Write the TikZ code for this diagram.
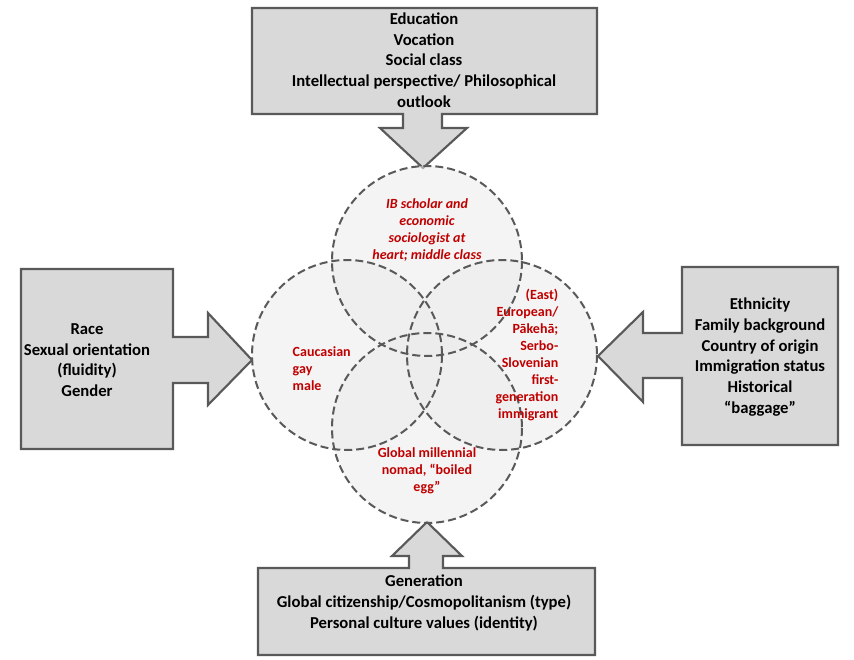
\documentclass[tikz,border=0pt]{standalone}
\usepackage{fontspec}
\setmainfont{Carlito}
\begin{document}
\begin{tikzpicture}[x=0.75pt,y=-0.75pt,
  callout/.style={fill=black!15,draw=black!65,line width=1.6pt,line join=miter},
  venn/.style={draw=black!65,dashed,dash pattern=on 6pt off 3pt,line width=1.5pt,fill=black!8,fill opacity=0.55},
  btxt/.style={font=\bfseries\fontsize{12.5}{15.5}\selectfont,align=center,text=black},
  rtxt/.style={font=\bfseries\fontsize{10.5}{12.8}\selectfont,text={rgb,255:red,192;green,0;blue,0}}]
\useasboundingbox (0,0) rectangle (854,660);
\draw[callout] (252,8)--(597,8)--(597,114)--(442,114)--(442,128)--(467,128)--(423,168)--(380,128)--(403,128)--(403,114)--(252,114)--cycle;
\draw[callout] (21,269)--(173,269)--(173,337)--(208,337)--(208,313)--(252,360)--(208,405)--(208,383)--(173,383)--(173,449)--(21,449)--cycle;
\draw[callout] (682,267)--(838,267)--(838,445)--(682,445)--(682,378)--(643,378)--(643,402)--(598,356)--(643,312)--(643,333)--(682,333)--cycle;
\draw[callout] (258,568)--(409,568)--(409,556)--(392,556)--(427,522)--(462,556)--(443,556)--(443,568)--(595,568)--(595,655)--(258,655)--cycle;
\foreach \p in {(427,261),(347,355),(502,355),(427,428)} \fill[black!8,opacity=0.55] \p circle (95);
\foreach \p in {(427,261),(347,355),(502,355),(427,428)} \draw[draw=black!65,dash pattern=on 6pt off 3pt,line width=1.5pt] \p circle (95);
\node[btxt] (t) at (424,60) {Education\\Vocation\\Social class\\Intellectual perspective/ Philosophical\\outlook};
\node[btxt] (l) at (87,360) {Race\\Sexual orientation\\(fluidity)\\Gender};
\node[btxt] (r) at (760,357) {Ethnicity\\Family background\\Country of origin\\Immigration status\\Historical\\``baggage''};
\node[btxt] (b) at (424,603) {Generation\\Global citizenship/Cosmopolitanism (type)\\Personal culture values (identity)};
\node[rtxt,align=center,font=\bfseries\itshape\fontsize{10.5}{12.8}\selectfont] (ct) at (427,230) {IB scholar and\\economic\\sociologist at\\heart; middle class};
\node[rtxt,align=left,anchor=west] (cl) at (288,369) {Caucasian\\gay\\male};
\node[rtxt,align=right,anchor=east] (cr) at (563,355) {(East)\\European/\\Pākehā;\\Serbo-\\Slovenian\\first-\\generation\\immigrant};
\node[rtxt,align=center] (cb) at (427,471) {Global millennial\\nomad, ``boiled\\egg''};
\end{tikzpicture}
\end{document}
